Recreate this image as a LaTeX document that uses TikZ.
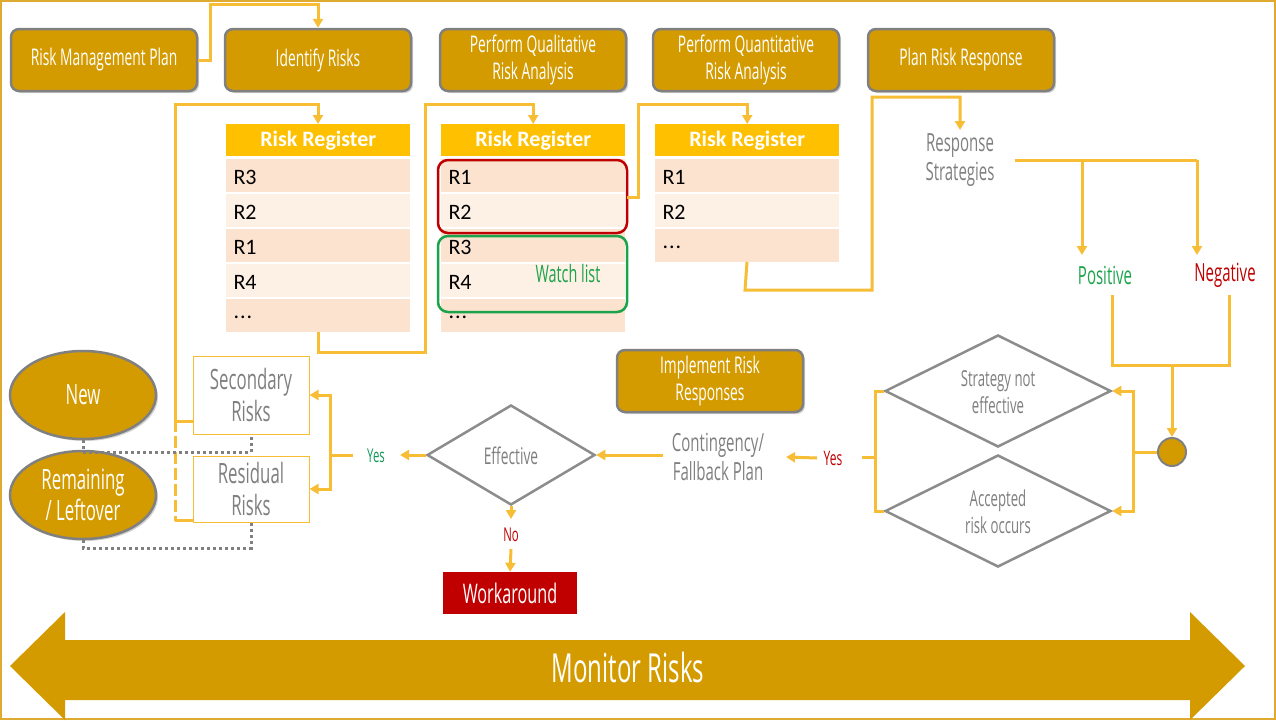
\documentclass[tikz,border=0pt]{standalone}
\usepackage{fontspec}
\usetikzlibrary{shapes.geometric,arrows.meta,shadows}
\setmainfont{Carlito}
\newfontfamily\agency[FakeStretch=0.6]{Open Sans}
\definecolor{gold}{HTML}{D49B00}
\definecolor{conn}{HTML}{F7BD35}
\definecolor{hdr}{HTML}{FFC000}
\definecolor{rowa}{HTML}{FBE3CF}
\definecolor{rowb}{HTML}{FDF0E5}
\definecolor{txtg}{HTML}{7F7F7F}
\definecolor{grn}{HTML}{1AA34A}
\definecolor{rd}{HTML}{C00000}
\newcommand\dts{.\kern1pt.\kern1pt.}
\tikzset{
 x=1pt,y=-1pt,
 proc/.style={draw=gray,line width=2.5pt,fill=gold,rounded corners=8pt,text=white,font=\agency\fontsize{23}{27}\selectfont,align=center,drop shadow={opacity=0.35,shadow xshift=2pt,shadow yshift=-2pt}},
 cn/.style={draw=conn,line width=3pt},
 ca/.style={cn,-{Triangle[length=9pt,width=10pt]}},
 hd/.style={fill=hdr,text=white,font=\bfseries\fontsize{22}{24}\selectfont,inner sep=0},
 gt/.style={text=txtg,font=\agency\fontsize{25}{29}\selectfont,align=center},
 dm/.style={diamond,draw=gray!90,line width=2.5pt,fill=white,aspect=2,inner sep=0},
 rbox/.style={draw=conn,line width=1pt,fill=white,text=txtg,font=\agency\fontsize{28}{32}\selectfont,align=center},
 ell/.style={ellipse,draw=gray,line width=2.5pt,fill=gold,text=white,font=\agency\fontsize{28}{31}\selectfont,align=center,minimum width=146pt,minimum height=88pt,drop shadow={opacity=0.35,shadow xshift=2pt,shadow yshift=-2pt}},
 dotl/.style={draw=gray,line width=3pt,dash pattern=on 3pt off 3pt},
}
\begin{document}
\begin{tikzpicture}
\useasboundingbox (0,0) rectangle (1276,720);
\draw[conn!90!black,line width=1.5pt] (1,1) rectangle (1275,719);
% top processes
\node[proc,minimum width=186pt,minimum height=62pt] (rmp) at (104,60) {Risk Management Plan};
\node[proc,minimum width=186pt,minimum height=62pt] (ir) at (318,60) {Identify Risks};
\node[proc,minimum width=186pt,minimum height=62pt] (qa) at (533,60) {Perform Qualitative\\Risk Analysis};
\node[proc,minimum width=186pt,minimum height=62pt] (qn) at (746,60) {Perform Quantitative\\Risk Analysis};
\node[proc,minimum width=186pt,minimum height=62pt] (pr) at (961,60) {Plan Risk Response};
\draw[ca] (rmp.east) -- (210,60) -- (210,4) -| (ir.north);
% registers
\foreach \n/\x/\items in {a/226/{R3,R2,R1,R4,\dts},b/441/{R1,R2,R3,R4,\dts},c/655/{R1,R2,\dts}}{
 \node[hd,minimum width=184pt,minimum height=32pt,anchor=north west] (h\n) at (\x,124) {Risk Register};
 \foreach \t [count=\i] in \items {
  \pgfmathsetmacro\yy{158+(\i-1)*35}
  \ifodd\i \def\rc{rowa}\else\def\rc{rowb}\fi
  \fill[\rc] (\x,\yy+1) rectangle (\x+184,\yy+34);
  \node[anchor=west,font=\fontsize{22}{24}\selectfont] at (\x+4,\yy+19) {\t};
  \coordinate (b\n) at (\x+92,\yy+34);
 }
}
\draw[rd,line width=2.5pt,rounded corners=10pt] (438,160) rectangle (627,233);
\draw[grn,line width=2.5pt,rounded corners=10pt] (438,236) rectangle (627,312);
\node[text=grn,font=\agency\fontsize{24}{27}\selectfont] (wl) at (568,273) {Watch list};
\coordinate (rbx) at (627,197);
\draw[ca] (ba) -- (318,352) -- (425,352) -- (425,104) -| (hb.north);
\draw[ca] (rbx) -- (638,197) -- (638,104) -| (hc.north);
\node[gt] (rs) at (960,160) {Response\\Strategies};
\draw[ca] (bc) -- (745,290) -- (872,290) -- (872,97) -| (rs.north);
\node[text=grn,font=\agency\fontsize{25}{28}\selectfont] (pos) at (1105,275) {Positive};
\node[text=rd,font=\agency\fontsize{25}{28}\selectfont] (neg) at (1225,275) {Negative};
\draw[cn] (1015,160) -- (1197,160);
\draw[ca] (1082,160) -- (1082,255);
\draw[ca] (1197,160) -- (1197,255);
\draw[cn] (1112,295) -- (1112,365) -- (1229,365) -- (1229,295);
\node[circle,draw=gray,line width=2pt,fill=gold,minimum size=28pt,inner sep=0] (dot) at (1172,452) {};
\draw[ca] (1172,365) -- (dot.north);
\node[dm,minimum width=226pt,minimum height=112pt] (d1) at (998,391) {};
\node[gt,font=\agency\fontsize{22}{27}\selectfont] at (998,392) {Strategy not\\effective};
\node[dm,minimum width=226pt,minimum height=112pt] (d2) at (998,511) {};
\node[gt,font=\agency\fontsize{22}{27}\selectfont] at (998,512) {Accepted\\risk occurs};
\draw[cn] (dot.west) -- (1133,452);
\draw[ca] (1133,452) |- (d1.east);
\draw[ca] (1133,452) |- (d2.east);
\draw[cn] (d1.west) -- (875,391) -- (875,511) -- (d2.west);
\draw[cn] (875,457) -- (862,457);
\node[text=rd,font=\agency\fontsize{20}{22}\selectfont] (y1) at (833,458) {Yes};
\node[gt] (cf) at (718,457) {Contingency/\\Fallback Plan};
\draw[ca] (y1.west) ++(-3,0) -- (786,457);
\node[proc,minimum width=186pt,minimum height=62pt] (impl) at (710,381) {Implement Risk\\Responses};
\node[dm,minimum width=168pt,minimum height=100pt] (eff) at (511,455) {};
\node[gt,font=\agency\fontsize{23}{27}\selectfont] at (511,456) {Effective};
\draw[ca] (663,455) -- (eff.east);
\node[text=grn!70!teal,font=\agency\fontsize{19}{21}\selectfont] (y2) at (376,456) {Yes};
\draw[ca] (eff.west) -- (400,455);
\node[rbox,minimum width=116pt,minimum height=78pt] (sec) at (251,395) {Secondary\\Risks};
\node[rbox,minimum width=116pt,minimum height=66pt] (res) at (251,489) {Residual\\Risks};
\draw[cn] (353,455) -- (330,455);
\draw[ca] (330,455) |- (sec.east);
\draw[ca] (330,455) |- (res.east);
\node[text=rd,font=\agency\fontsize{19}{21}\selectfont] (no) at (511,535) {No};
\draw[ca] (eff.south) -- (511,519);
\node[fill=rd,text=white,font=\agency\fontsize{27}{30}\selectfont,minimum width=134pt,minimum height=42pt] (wa) at (510,593) {Workaround};
\draw[ca] (511,549) -- (wa.north);
\draw[ca] (175,420) -- (175,104) -| (ir.north |- ha.north);
\draw[cn,dash pattern=on 12pt off 4pt] (175,420) -- (175,521);
\draw[cn] (175,421) -- (193,421);
\draw[cn] (175,520) -- (193,520);
\node[ell] (new) at (83,395) {New};
\node[ell] (rem) at (83,495) {Remaining\\/ Leftover};
\draw[dotl] (new.south) -- (83,452) -- (251,452) -- (sec.south);
\draw[dotl] (rem.south) -- (83,548) -- (251,548) -- (res.south);
% monitor arrow
\fill[gold] (10,666) -- (65,612) -- (65,640) -- (1190,640) -- (1190,612) -- (1245,666) -- (1190,720) -- (1190,700) -- (65,700) -- (65,720) -- cycle;
\node[text=white,font=\agency\fontsize{40}{44}\selectfont] (mr) at (628,667) {Monitor Risks};
\end{tikzpicture}
\end{document}
